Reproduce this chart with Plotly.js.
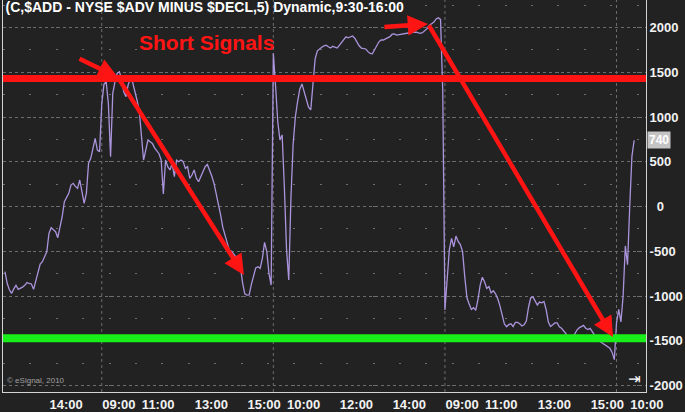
<!DOCTYPE html>
<html><head><meta charset="utf-8">
<script src="https://cdn.plot.ly/plotly-3.0.1.min.js"></script>
<style>html,body{margin:0;padding:0;background:#222222;} #chart{width:685px;height:412px;}</style>
</head><body><div id="chart"></div>
<script>
// $ADD (NYSE advances minus declines), 5-minute bars, one array per session
const day1Values = [-728,-858,-930,-970,-920,-880,-925,-915,-900,-880,-850,-860,-865,-925,-821,-720,-642,-616,-560,-505,
  -300,-237,-260,-281,-348,-230,-114,54,100,147,240,259,225,203,296,147,36,147,483,538,668,762,630,612];
const day2Values = [1150,1365,1394,1150,556,1264,1394,1488,1506,1432,1282,1227,1360,1425,1390,1300,1190,1080,800,519,
  631,743,724,705,655,620,590,519,140,519,445,408,483,333,519,501,519,501,426,445,
  315,352,408,315,277,333,389,445,470,410,340,260,150,55,-90,-230,-320,-430,-490,-500,
  -540,-565,-579,-670,-850,-975,-990,-988,-870,-760,-685,-672,-690,-580,-400,-500,-746,-877];
const day3Values = [1711,1350,950,743,800,221,-480,-821,100,700,1000,1170,1310,1370,1290,1200,1110,1080,1350,1650,
  1740,1765,1780,1795,1803,1785,1770,1790,1780,1770,1800,1830,1865,1895,1885,1895,1905,1880,1835,1795,
  1770,1767,1760,1730,1710,1705,1745,1785,1840,1860,1860,1872,1885,1897,1925,1928,1915,1920,1925,1934,
  1938,1941,1941,1945,1948,1948,1940,1935,1947,1965,1990,2025,2040,2060,2095,2108,2090,1300];
const day4Values = [-1156,-750,-480,-355,-450,-330,-390,-425,-500,-780,-1020,-1090,-1150,-1130,-1160,-1040,-880,-790,-840,-914,
  -895,-965,-940,-975,-1030,-1110,-1230,-1310,-1343,-1320,-1310,-1340,-1295,-1295,-1310,-1335,-1320,-1280,-1125,-1020,
  -1010,-1060,-1100,-1068,-1075,-1060,-1150,-1290,-1340,-1320,-1300,-1300,-1343,-1360,-1385,-1420,-1472,-1490,-1470,-1420,
  -1380,-1355,-1345,-1328,-1360,-1375,-1362,-1400,-1440,-1473,-1500,-1518,-1530,-1555,-1575,-1584,-1630,-1710];
const day5Values = [-1300,-1150,-1290,-1000,-440,-650,0,560,740];

// axis labels
const tickBars   = [20, 44, 62, 86, 110, 128, 152, 176, 200, 218, 242, 266, 284];
const tickLabels = ['14:00','09:00','11:00','13:00','15:00','10:00','12:00','14:00','09:00','11:00','13:00','15:00','10:00'];
const yTicks      = [2000, 1500, 1000, 500, 0, -500, -1000, -1500, -2000];
const yTickLabels = ['2000','1500','1000','500','\u20070','-500','-1000','-1500','-2000'];

// signal levels
const shortLevel = 1430;
const longLevel = -1472;

// arrows [tailBar, tailValue, headBar, headValue]
const arrows = [
  [33.2, 1659, 51.4, 1440],
  [51.4, 1440, 108.6, -765],
  [171.8, 2005, 192.3, 2040],
  [192.3, 2040, 276.4, -1458]
];

const sessions = [day1Values, day2Values, day3Values, day4Values, day5Values];
const values = [].concat(...sessions);
const bars = values.map((_, i) => i);
const dayStarts = [];
let acc = 0;
sessions.slice(0, -1).forEach(d => { acc += d.length; dayStarts.push(acc); });

const FONT = 'Liberation Sans, Arial, sans-serif';

const shapes = [];
dayStarts.forEach(b => shapes.push({
  type: 'line', xref: 'x', yref: 'paper', x0: b, x1: b, y0: 0, y1: 1,
  line: {color: '#6c6c6c', width: 1, dash: 'dot'}, layer: 'below'
}));
shapes.push({type: 'line', xref: 'paper', yref: 'y', x0: 0, x1: 1, y0: shortLevel, y1: shortLevel,
  line: {color: '#ff1414', width: 7}});
shapes.push({type: 'line', xref: 'paper', yref: 'y', x0: 0, x1: 1, y0: longLevel, y1: longLevel,
  line: {color: '#19f019', width: 8}});

const annotations = arrows.map(a => ({
  x: a[2], y: a[3], ax: a[0], ay: a[1], xref: 'x', yref: 'y', axref: 'x', ayref: 'y',
  text: '', showarrow: true, arrowhead: 2, arrowsize: 0.9, arrowwidth: 4.5, arrowcolor: '#ff1414'
}));
annotations.push({x: 60, y: 1837, xref: 'x', yref: 'y', xanchor: 'left', yanchor: 'middle',
  text: 'Short Signals', showarrow: false,
  font: {family: FONT, size: 21, color: '#ff1414', weight: 'bold'}});
annotations.push({x: 1, y: values[values.length - 1], xref: 'paper', yref: 'y', xanchor: 'left', yanchor: 'middle',
  xshift: 1, text: String(values[values.length - 1]), showarrow: false, bgcolor: '#c4c4c4', borderpad: 1,
  font: {family: FONT, size: 12, color: '#ffffff', weight: 'bold'}});
annotations.push({x: 0.003, y: 0.012, xref: 'paper', yref: 'paper', xanchor: 'left', yanchor: 'bottom',
  text: '\u00a9 eSignal, 2010', showarrow: false, font: {family: FONT, size: 8, color: '#a0a0a0'}});
annotations.push({x: 0.982, y: 0.005, xref: 'paper', yref: 'paper', xanchor: 'center', yanchor: 'bottom',
  text: '\u21e5', showarrow: false, font: {family: 'DejaVu Sans', size: 15, color: '#ffffff'}});

const trace = {
  x: bars, y: values, type: 'scatter', mode: 'lines',
  line: {color: '#ab94dc', width: 1.3}, hoverinfo: 'skip'
};

const layout = {
  width: 685, height: 412,
  margin: {l: 3, r: 39, t: 0, b: 20, pad: 0},
  paper_bgcolor: '#222222', plot_bgcolor: '#222222',
  showlegend: false,
  title: {text: '(C,$ADD - NYSE $ADV MINUS $DECL,5) Dynamic,9:30-16:00',
    x: 0.004, xanchor: 'left', xref: 'paper', y: 0.995, yanchor: 'top', yref: 'container',
    font: {family: FONT, size: 14, color: '#ffffff', weight: 'bold'}},
  xaxis: {range: [-0.9, 291.4], tickvals: tickBars, ticktext: tickLabels, tickangle: 0,
    ticklabelposition: 'outside right', ticks: '', showgrid: false, zeroline: false,
    showline: true, linecolor: '#d4d4d4', linewidth: 1, automargin: false,
    tickfont: {family: FONT, size: 13, color: '#f2f2f2', weight: 'bold'}},
  yaxis: {range: [-2072, 2307], side: 'right', tickvals: yTicks, ticktext: yTickLabels,
    ticks: '', zeroline: false, showline: true, mirror: true, linecolor: '#d4d4d4', linewidth: 1,
    showgrid: true, gridcolor: '#6c6c6c', griddash: 'dot', gridwidth: 1, automargin: false,
    minor: {dtick: 250, tick0: 0, showgrid: true, gridcolor: '#6c6c6c', griddash: '2px,24.4px', gridwidth: 1},
    tickfont: {family: FONT, size: 13, color: '#f2f2f2', weight: 'bold'}},
  shapes: shapes,
  annotations: annotations
};

Plotly.newPlot('chart', [trace], layout, {displayModeBar: false, staticPlot: true});
</script></body></html>
